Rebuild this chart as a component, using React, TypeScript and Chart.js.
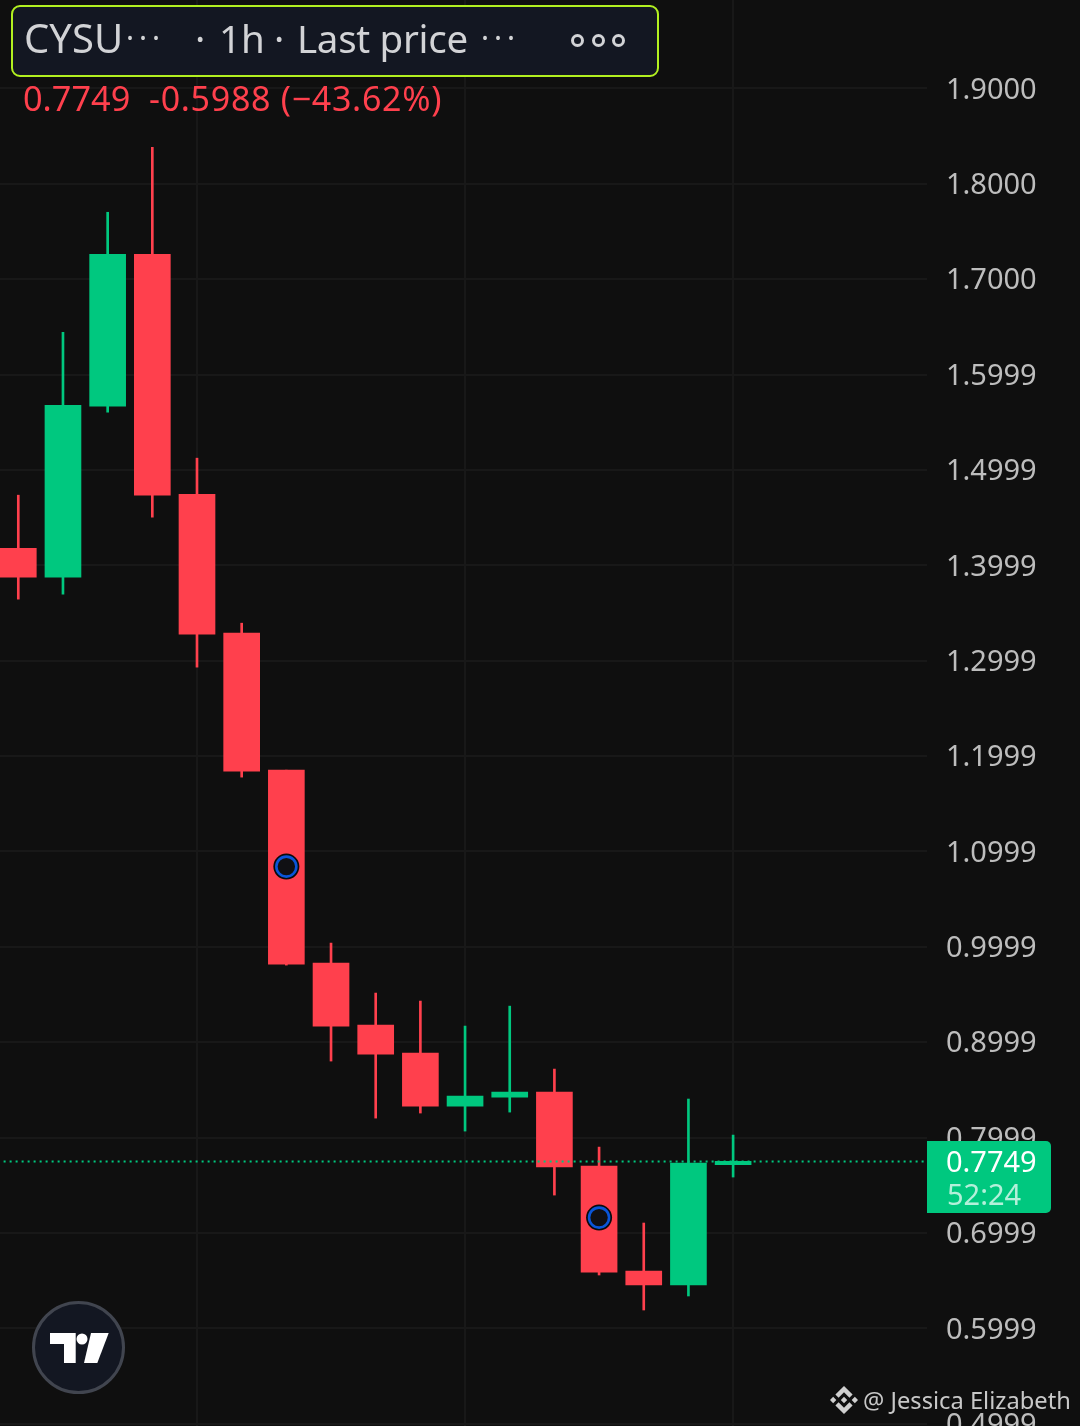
import React, { useEffect, useRef } from "react";
import { Chart, registerables } from "chart.js";

Chart.register(...registerables);

const indices = [0, 1, 2, 3, 4, 5, 6, 7, 8, 9, 10, 11, 12, 13, 14, 15, 16];
const opens = [1.4178, 1.3874, 1.5667, 1.726, 1.4744, 1.3287, 1.1851, 0.9828, 0.9178, 0.8885, 0.8329, 0.8423, 0.8476, 0.77, 0.66, 0.6453, 0.7715];
const closes = [1.3874, 1.5677, 1.726, 1.4734, 1.3277, 1.1841, 0.9818, 0.9168, 0.8874, 0.8329, 0.8434, 0.8476, 0.769, 0.6589, 0.6453, 0.7732, 0.7749];
const highs = [1.4734, 1.6442, 1.77, 1.8382, 1.5122, 1.3392, 1.1851, 1.0038, 0.9514, 0.943, 0.9168, 0.9377, 0.8717, 0.7899, 0.7103, 0.8403, 0.8025];
const lows = [1.3644, 1.3696, 1.5604, 1.4503, 1.2931, 1.1778, 0.9807, 0.8801, 0.8203, 0.8256, 0.8067, 0.8266, 0.7396, 0.6558, 0.6191, 0.6338, 0.7585];
const priceTicks = [1.9, 1.8, 1.7, 1.5999, 1.4999, 1.3999, 1.2999, 1.1999, 1.0999, 0.9999, 0.8999, 0.7999, 0.6999, 0.5999, 0.4999];
const timeTicks = [4, 10, 16];
const markerIndices = [6, 13];
const markerPrices = [1.084, 0.716];
const lastPrice = 0.7749;

const RED = "#FF404D";
const GREEN = "#00C87F";
const GRID = "#181818";
const BG = "#0F0F0F";
const FONT = '"Noto Sans", sans-serif';

const abs = (left: number, top: number, extra: React.CSSProperties = {}): React.CSSProperties => ({
  position: "absolute",
  left,
  top,
  whiteSpace: "nowrap",
  fontFamily: FONT,
  ...extra,
});

export default function App() {
  const ref = useRef<HTMLCanvasElement>(null);

  useEffect(() => {
    document.body.style.margin = "0";
    document.body.style.background = BG;
    const colors = indices.map((i) => (closes[i] >= opens[i] ? GREEN : RED));
    const chart = new Chart(ref.current!, {
      type: "bar",
      data: {
        datasets: [
          {
            type: "scatter",
            data: markerIndices.map((x, k) => ({ x, y: markerPrices[k] })),
            pointRadius: 10,
            pointBorderWidth: 2.6,
            pointBorderColor: "#0A55D8",
            pointBackgroundColor: "#101014",
            order: -2,
          } as any,
          {
            type: "scatter",
            data: markerIndices.map((x, k) => ({ x, y: markerPrices[k] })),
            pointRadius: 13,
            pointBorderWidth: 0,
            pointBackgroundColor: "#0B0B0B",
            order: -1,
          } as any,
          {
            type: "line",
            data: [
              { x: -1, y: lastPrice },
              { x: 21, y: lastPrice },
            ],
            borderColor: GREEN,
            borderWidth: 2,
            borderDash: [2, 4],
            pointRadius: 0,
            order: 0,
          } as any,
          {
            type: "bar",
            data: indices.map((i) => ({ x: i, y: [opens[i], closes[i]] })),
            backgroundColor: colors,
            barThickness: 36,
            grouped: false,
            order: 1,
          } as any,
          {
            type: "bar",
            data: indices.map((i) => ({ x: i, y: [lows[i], highs[i]] })),
            backgroundColor: colors,
            barThickness: 2,
            grouped: false,
            order: 2,
          } as any,
        ],
      },
      options: {
        responsive: false,
        animation: false,
        devicePixelRatio: 1,
        layout: { padding: 0 },
        events: [],
        plugins: { legend: { display: false }, tooltip: { enabled: false } },
        scales: {
          x: {
            type: "linear",
            offset: false,
            min: -0.4319,
            max: 20.34,
            grid: { color: GRID, lineWidth: 2, drawTicks: false, offset: false },
            border: { display: false },
            ticks: { display: false },
            afterBuildTicks: (s: any) => {
              s.ticks = timeTicks.map((value) => ({ value }));
            },
            afterFit: (s: any) => {
              s.height = 0;
              s.paddingLeft = 0;
              s.paddingRight = 0;
            },
          },
          y: {
            position: "right",
            min: 0.49644,
            max: 1.99361,
            grid: { color: GRID, lineWidth: 2, drawTicks: false },
            border: { display: false },
            afterBuildTicks: (s: any) => {
              s.ticks = priceTicks.map((value) => ({ value }));
            },
            afterFit: (s: any) => {
              s.width = 153;
              s.paddingTop = 0;
              s.paddingBottom = 0;
            },
            ticks: {
              autoSkip: false,
              padding: 19,
              labelOffset: 2,
              color: "#BDBDBD",
              font: { family: "Noto Sans", size: 29 },
              callback: (v: any) => Number(v).toFixed(4),
            },
          },
        },
      } as any,
    });
    return () => chart.destroy();
  }, []);

  const hdr = { fontSize: 38.5, color: "#D2D3D6", lineHeight: "72px", fontWeight: 400 };
  const smallDots = { fontSize: 30, color: "#D2D3D6", lineHeight: "72px", letterSpacing: 5 };
  const ring = (cx: number): React.CSSProperties => ({
    position: "absolute",
    left: cx - 6.5,
    top: 33.5,
    width: 7,
    height: 7,
    border: "3px solid #D2D3D6",
    borderRadius: "50%",
  });

  return (
    <div style={{ position: "absolute", left: 0, top: 0, width: 1080, height: 1426, overflow: "hidden", background: BG }}>
      <canvas
        ref={ref}
        width={1094}
        height={1454}
        style={{ display: "block", position: "absolute", left: -14, top: -14 }}
      />

      <div
        style={{
          position: "absolute",
          left: 11,
          top: 5,
          width: 644,
          height: 68,
          background: "#131722",
          border: "2px solid #B2F020",
          borderRadius: 9,
        }}
      />
      <div style={abs(24, 2, { ...hdr, fontSize: 40 })}>CYSU</div>
      <div style={abs(126, 2, smallDots)}>···</div>
      <div style={abs(195, 2, hdr)}>·</div>
      <div style={abs(219, 2, hdr)}>1h</div>
      <div style={abs(274, 2, hdr)}>·</div>
      <div style={abs(297, 2, { ...hdr, letterSpacing: -0.3 })}>Last price</div>
      <div style={abs(481, 2, smallDots)}>···</div>
      <div style={ring(577)} />
      <div style={ring(598)} />
      <div style={ring(618)} />

      <div style={abs(23, 75, { fontSize: 34.3, color: RED, lineHeight: "46px" })}>0.7749</div>
      <div style={abs(149, 75, { fontSize: 34, color: RED, lineHeight: "46px", letterSpacing: 0.7 })}>-0.5988 (−43.62%)</div>

      <div
        style={{
          position: "absolute",
          left: 927,
          top: 1141,
          width: 124,
          height: 72,
          background: GREEN,
          borderRadius: "0 5px 5px 0",
        }}
      />
      <div style={abs(946, 1141, { fontSize: 29, color: "#FFFFFF", lineHeight: "40px" })}>0.7749</div>
      <div style={abs(947, 1174, { fontSize: 29, color: "#B4F0DA", lineHeight: "40px" })}>52:24</div>

      <svg style={{ position: "absolute", left: 32, top: 1301 }} width={93} height={93} viewBox="32 1301 93 93">
        <circle cx={78.5} cy={1347.5} r={45} fill="#131722" stroke="#41454F" strokeWidth={3} />
        <polygon points="50,1333 75.7,1333 75.7,1363 64,1363 64,1344 50,1344" fill="#FFFFFF" />
        <circle cx={82} cy={1339} r={5.5} fill="#FFFFFF" />
        <polygon points="91,1333 108.7,1333 97.3,1363 84,1363" fill="#FFFFFF" />
      </svg>

      <svg style={{ position: "absolute", left: 830, top: 1386 }} width={28} height={28} viewBox="0 0 126.61 126.61">
        <path
          fill="#D0D0D0"
          d="M38.73 53.2l24.59-24.58 24.6 24.6 14.3-14.31L63.32 0 24.42 38.9zM0 63.31l14.3-14.31 14.31 14.31-14.31 14.3zM38.73 73.41l24.59 24.59 24.6-24.6 14.31 14.29-38.9 38.91-38.91-38.88zM98 63.31l14.3-14.31 14.31 14.3-14.31 14.32zM77.83 63.3L63.32 48.78 52.59 59.51l-1.24 1.23-2.54 2.54 14.51 14.5 14.51-14.47z"
        />
      </svg>
      <div style={abs(863, 1383, { fontSize: 23.7, color: "#C8C8C8", lineHeight: "34px" })}>@ Jessica Elizabeth</div>
    </div>
  );
}
